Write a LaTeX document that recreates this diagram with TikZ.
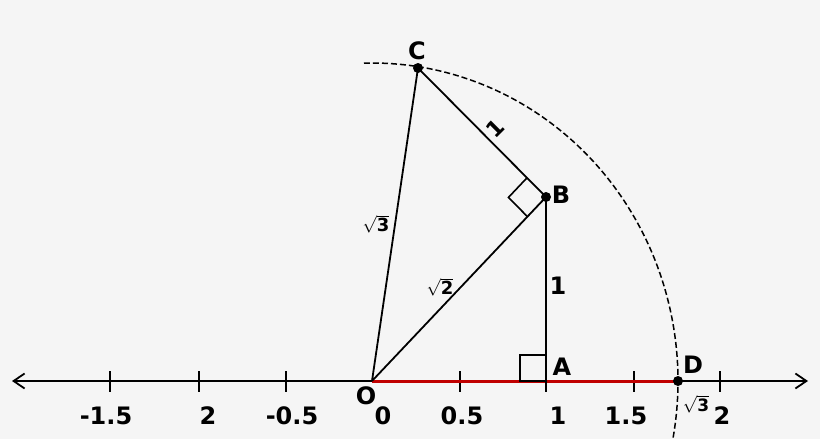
\documentclass[tikz,border=0pt]{standalone}
\usepackage{fontspec}
\setmainfont{DejaVu Sans}
\usetikzlibrary{calc,arrows.meta}
\definecolor{bg}{HTML}{F5F5F5}
\definecolor{redline}{HTML}{C00000}
\begin{document}
\begin{tikzpicture}[x=1pt,y=-1pt,line width=1.8pt,
  lbl/.style={font=\fontsize{24}{26}\selectfont\bfseries,inner sep=0pt},
  rlbl/.style={font=\fontsize{18}{20}\selectfont\bfseries,inner sep=0pt},
  dot/.style={circle,fill=black,inner sep=0pt,minimum size=10pt},
  tickmark/.style={line width=1.8pt},
  arcline/.style={line width=1.5pt,dash pattern=on 6pt off 3pt},
  axisline/.style={line width=1.8pt,{Straight Barb[length=11pt,width=15pt]}-{Straight Barb[length=11pt,width=15pt]}}]
\fill[bg] (0,0) rectangle (820,439);
\useasboundingbox (0,0) rectangle (820,439);
% points
\coordinate (O) at (372,381);
\coordinate (A) at (546,381);
\coordinate (B) at (546,197);
\coordinate (C) at (418,68);
\coordinate (D) at (678,381);
\coordinate (L) at (12,381);
\coordinate (R) at (808,381);
\coordinate (Abot) at (546,392);
% axis
\draw[axisline] (L) -- (R);
\foreach \x in {110,199,286,460,634,720} \draw[tickmark] (\x,371) -- (\x,392);
\draw[redline,line width=3pt] (O) -- (D);
% arc
\draw[arcline] ([shift={(91.5:306pt and 318pt)}]O) arc[start angle=91.5,end angle=-11,x radius=306pt,y radius=318pt];
% triangles
\draw (O) -- (C) -- (B) -- (O);
\draw (B) -- (Abot);
% right angle marks
\draw[line width=1.6pt] ($(A)+(-26,-26)$) rectangle (A);
\coordinate (b1) at ($(B)!27pt!(C)$);
\coordinate (b3) at ($(B)!27pt!(O)$);
\draw[line width=1.6pt] (b1) -- ($(b1)+(b3)-(B)$) -- (b3);
% dots
\node[dot] (Bd) at (B) {};
\node[dot] (Cd) at (C) {};
\node[dot] (Dd) at (D) {};
% point labels
\node[lbl] (lO) at (366,396) {O};
\node[lbl] (lA) at (562,367) {A};
\node[lbl] (lB) at (561,195) {B};
\node[lbl] (lC) at (417,51) {C};
\node[lbl] (lD) at (693,365) {D};
% length labels
\node[lbl,font=\fontsize{22}{24}\selectfont\bfseries,rotate=45] (lBC) at (495,128) {1};
\node[lbl] (lAB) at (558,286) {1};
\node[rlbl] (lOB) at (440,287) {$\sqrt{\mbox{2}}$};
\node[rlbl] (lOC) at (376,224) {$\sqrt{\mbox{3}}$};
\node[rlbl,font=\fontsize{17}{19}\selectfont\bfseries] (lOD) at (696,404) {$\sqrt{\mbox{3}}$};
% tick labels
\node[lbl] (t1) at (106,416) {-1.5};
\node[lbl] (t2) at (208,416) {2};
\node[lbl] (t3) at (292,416) {-0.5};
\node[lbl] (t4) at (383,416) {0};
\node[lbl] (t5) at (462,416) {0.5};
\node[lbl] (t6) at (558,416) {1};
\node[lbl] (t7) at (626,416) {1.5};
\node[lbl] (t8) at (722,416) {2};
\end{tikzpicture}
\end{document}
